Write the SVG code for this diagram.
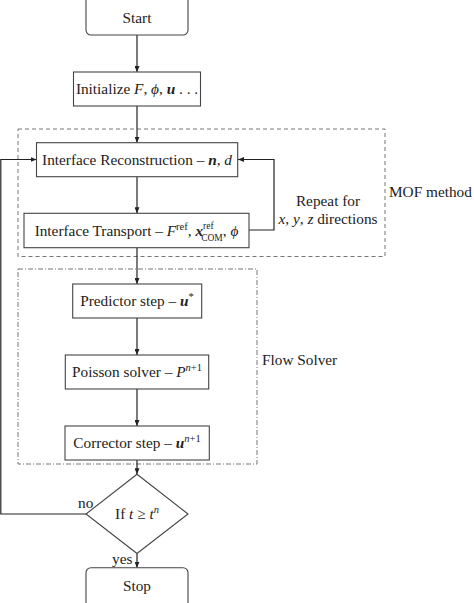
<svg xmlns="http://www.w3.org/2000/svg" width="474" height="603" viewBox="0 0 474 603">
<defs>
<style>
.node{fill:#fff;stroke:#444;stroke-width:1.1}
.t{font-family:"Liberation Serif","DejaVu Serif",serif;font-size:15.3px;fill:#222;text-anchor:middle}
.l{font-family:"Liberation Serif","DejaVu Serif",serif;font-size:15.3px;fill:#222}
.i{font-style:italic}
.b{font-style:italic;font-weight:bold}
.sup{font-size:10.5px}
.sm{font-size:9.5px}
.c{fill:none;stroke:#222;stroke-width:1.2}
</style>
<marker id="ah" viewBox="0 0 6 5" refX="6" refY="2.5" markerWidth="6" markerHeight="5" markerUnits="userSpaceOnUse" orient="auto">
<path d="M0,0 L6,2.5 L0,5 Z" fill="#222"/>
</marker>
</defs>
<rect width="474" height="603" fill="#fff"/>
<g id="groups">
<rect id="mof-box" x="18" y="129" width="367" height="127.5" fill="none" stroke="#777" stroke-width="1" stroke-dasharray="4,3"/>
<text class="l" x="389" y="197">MOF method</text>
<rect id="flow-box" x="18" y="269" width="239" height="195" fill="none" stroke="#777" stroke-width="1" stroke-dasharray="5,2,1,2"/>
<text class="l" x="262" y="365">Flow Solver</text>
</g>
<g id="connectors">
<path class="c" d="M137,35 V72" marker-end="url(#ah)"/>
<path class="c" d="M137,106 V142.7" marker-end="url(#ah)"/>
<path class="c" d="M137,176.7 V213.3" marker-end="url(#ah)"/>
<path class="c" d="M137,247.7 V284" marker-end="url(#ah)"/>
<path class="c" d="M137,318 V355" marker-end="url(#ah)"/>
<path class="c" d="M137,389 V426" marker-end="url(#ah)"/>
<path class="c" d="M137,460 V474.3" marker-end="url(#ah)"/>
<path class="c" d="M137,553.5 V567.7" marker-end="url(#ah)"/>
<path class="c" d="M249,230 H274 V159.5 H238" marker-end="url(#ah)"/>
<path class="c" d="M86,514 H0.8 V159.5 H36.5" marker-end="url(#ah)"/>
<text class="l" x="78" y="508">no</text>
<text class="l" x="112" y="564">yes</text>
<text class="t" x="328" y="206">Repeat for</text>
<text class="t" x="328" y="224"><tspan class="i">x</tspan>, <tspan class="i">y</tspan>, <tspan class="i">z</tspan> directions</text>
</g>
<g id="start">
<rect class="node" x="86" y="-4" width="102" height="39" rx="5"/>
<text class="t" x="137" y="23">Start</text>
</g>
<g id="init">
<rect class="node" x="73.5" y="72" width="127" height="34"/>
<text class="t" x="137" y="94">Initialize <tspan class="i">F</tspan>, <tspan class="i">ϕ</tspan>, <tspan class="b">u</tspan> . . .</text>
</g>
<g id="recon">
<rect class="node" x="36.5" y="142.7" width="201.2" height="34"/>
<text class="t" x="137" y="165">Interface Reconstruction – <tspan class="b">n</tspan>, <tspan class="i">d</tspan></text>
</g>
<g id="transport">
<rect class="node" x="24" y="213.3" width="225" height="34.4"/>
<text class="t" x="136.5" y="236">Interface Transport – <tspan class="i">F</tspan><tspan class="sup" dy="-6.5">ref</tspan><tspan dy="6.5">, </tspan><tspan class="b">x</tspan><tspan class="sm" dy="-7">ref</tspan><tspan class="sm" dx="-12.5" dy="11.5">COM</tspan><tspan dy="-4.5">, </tspan><tspan class="i">ϕ</tspan></text>
</g>
<g id="predictor">
<rect class="node" x="72.7" y="284" width="129" height="34"/>
<text class="t" x="137" y="306">Predictor step – <tspan class="b">u</tspan><tspan class="sup" dy="-6">*</tspan></text>
</g>
<g id="poisson">
<rect class="node" x="65.3" y="355" width="143.4" height="34"/>
<text class="t" x="137" y="377">Poisson solver – <tspan class="i">P</tspan><tspan class="sup i" dy="-6">n</tspan><tspan class="sup">+1</tspan></text>
</g>
<g id="corrector">
<rect class="node" x="65" y="426" width="144.3" height="34"/>
<text class="t" x="137" y="448">Corrector step – <tspan class="b">u</tspan><tspan class="sup i" dy="-6">n</tspan><tspan class="sup">+1</tspan></text>
</g>
<g id="decision">
<polygon class="node" points="137,474.3 188,514 137,553.5 86,514"/>
<text class="t" x="137" y="519">If <tspan class="i">t</tspan> ≥ <tspan class="i">t</tspan><tspan class="sup i" dy="-6">n</tspan></text>
</g>
<g id="stop">
<rect class="node" x="86" y="567.7" width="102" height="40" rx="5"/>
<text class="t" x="137" y="591">Stop</text>
</g>
</svg>
